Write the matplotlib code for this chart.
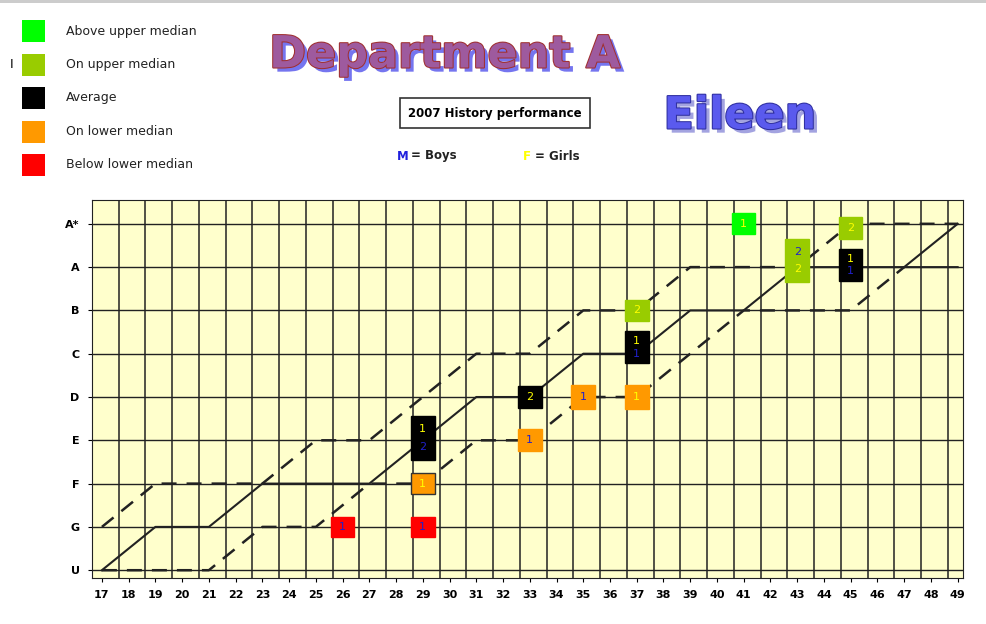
import matplotlib
matplotlib.use("Agg")
import matplotlib.pyplot as plt
import matplotlib.patheffects as pe
from matplotlib.patches import Rectangle

grades = ["U", "G", "F", "E", "D", "C", "B", "A", "A*"]
xticks = list(range(17, 50))

mid_x = [17, 19, 21, 23, 27, 31, 33, 35, 37, 39, 41, 43, 47, 49]
mid_y = [0, 1, 1, 2, 2, 4, 4, 5, 5, 6, 6, 7, 7, 7]
mid2_x = [47, 49]
mid2_y = [7, 8]
up_x = [17, 19, 23, 25, 27, 29, 31, 33, 35, 37, 39, 43, 45, 49]
up_y = [1, 2, 2, 3, 3, 4, 5, 5, 6, 6, 7, 7, 8, 8]
lo_x = [17, 21, 23, 25, 27, 29, 31, 33, 35, 37, 39, 41, 45, 47]
lo_y = [0, 0, 1, 1, 2, 2, 3, 3, 4, 4, 5, 6, 6, 7]

m_x = [26, 29, 29, 29, 33, 33, 35, 37, 37, 37, 41, 43, 45, 45]
m_y = [1, 1, 2, 3.05, 3, 4, 4, 4, 5.15, 6, 8, 7.15, 7.05, 7.9]
m_h = [0.45, 0.45, 0.48, 1.0, 0.5, 0.5, 0.55, 0.55, 0.75, 0.5, 0.48, 0.98, 0.72, 0.52]
m_col = ["#FF0000", "#FF0000", "#FF9900", "#000000", "#FF9900", "#000000", "#FF9900",
         "#FF9900", "#000000", "#99CC00", "#00FF00", "#99CC00", "#000000", "#99CC00"]
# (top label, top colour, bottom label, bottom colour)
m_top = ["", "", "1", "1", "", "2", "", "1", "1", "2", "1", "2", "1", "2"]
m_top_c = ["", "", "y", "y", "", "y", "", "y", "y", "y", "y", "b", "y", "y"]
m_bot = ["1", "1", "", "2", "1", "", "1", "", "1", "", "", "2", "1", ""]
m_bot_c = ["b", "b", "", "b", "b", "", "b", "", "b", "", "", "y", "b", ""]

leg_labels = ["Above upper median", "On upper median", "Average", "On lower median", "Below lower median"]
leg_colors = ["#00FF00", "#99CC00", "#000000", "#FF9900", "#FF0000"]

CMAP = {"y": "#FFFF00", "b": "#2020CC"}

fig = plt.figure(figsize=(9.87, 6.24), dpi=100)
fig.patch.set_facecolor("white")
W, H = 987, 624
ax = fig.add_axes([92 / W, 1 - 578 / H, (963 - 92) / W, (578 - 200) / H])
ax.set_facecolor("#FFFFCC")
ax.set_xlim(16.63, 49.2)
ax.set_ylim(-0.18, 8.55)
for xv in xticks:
    ax.axvline(xv - 0.37, color="#222222", lw=1.1, zorder=1)
for g in range(9):
    ax.axhline(g, color="#222222", lw=1.0, zorder=1)
ax.set_xticks(xticks)
ax.set_xticklabels([str(v) for v in xticks], fontsize=8, fontweight="bold")
ax.set_yticks(range(9))
ax.set_yticklabels(grades, fontsize=8, fontweight="bold")
ax.tick_params(length=3, pad=6)
for s in ax.spines.values():
    s.set_color("#222222")

ax.plot(mid_x, mid_y, color="#222222", lw=1.5, zorder=2)
ax.plot(mid2_x, mid2_y, color="#222222", lw=1.5, zorder=2)
ax.plot(up_x, up_y, color="#222222", lw=1.8, ls=(0, (6, 4)), zorder=2)
ax.plot(lo_x, lo_y, color="#222222", lw=1.8, ls=(0, (6, 4)), zorder=2)

for x, y, h, c, t, tc, b, bc in zip(m_x, m_y, m_h, m_col, m_top, m_top_c, m_bot, m_bot_c):
    w = 0.88
    ax.add_patch(Rectangle((x - w / 2, y - h / 2), w, h, facecolor=c,
                           edgecolor="#333333" if (c == "#FF9900" and x == 29) else c,
                           lw=1, zorder=3))
    if t and b:
        ax.text(x, y + h * 0.2, t, color=CMAP[tc], ha="center", va="center", fontsize=8, zorder=4)
        ax.text(x, y - h * 0.2, b, color=CMAP[bc], ha="center", va="center", fontsize=8, zorder=4)
    elif t:
        ax.text(x, y, t, color=CMAP[tc], ha="center", va="center", fontsize=8, zorder=4)
    elif b:
        ax.text(x, y, b, color=CMAP[bc], ha="center", va="center", fontsize=8, zorder=4)

for i, (lab, c) in enumerate(zip(leg_labels, leg_colors)):
    yc = 31 + i * 33.5
    fig.patches.append(Rectangle((22 / W, 1 - (yc + 11) / H), 23 / W, 22 / H,
                                 facecolor=c, transform=fig.transFigure, figure=fig))
    fig.text(66 / W, 1 - yc / H, lab, fontsize=9, va="center", color="#222222")
fig.text(10 / W, 1 - 64 / H, "I", fontsize=9, va="center")

fig.text(445 / W, 1 - 55 / H, "Department A", fontsize=32, fontweight="bold", ha="center",
         va="center", color="#9E5A9E",
         path_effects=[pe.withSimplePatchShadow(offset=(3, -3), shadow_rgbFace="#6666EE", alpha=0.9),
                       pe.Stroke(linewidth=1.5, foreground="#A03030"), pe.Normal()])
fig.text(740 / W, 1 - 116 / H, "Eileen", fontsize=32, fontweight="bold", ha="center",
         va="center", color="#5A5AEE",
         path_effects=[pe.withSimplePatchShadow(offset=(3, -3), shadow_rgbFace="#9999DD", alpha=0.9),
                       pe.Stroke(linewidth=1.5, foreground="#3030A0"), pe.Normal()])
fig.text(495 / W, 1 - 113 / H, "2007 History performance", fontsize=8.5, fontweight="bold",
         ha="center", va="center",
         bbox=dict(boxstyle="square,pad=0.7", fc="white", ec="#333333", lw=1.2))
fig.text(397 / W, 1 - 156 / H, "M", fontsize=8.5, fontweight="bold", color="#2020DD", va="center")
fig.text(411 / W, 1 - 156 / H, "= Boys", fontsize=8.5, fontweight="bold", color="#222222", va="center")
fig.text(523 / W, 1 - 156 / H, "F", fontsize=8.5, fontweight="bold", color="#FFFF00", va="center")
fig.text(535 / W, 1 - 156 / H, "= Girls", fontsize=8.5, fontweight="bold", color="#222222", va="center")

fig.patches.append(Rectangle((0, 1 - 3 / H), 1, 3 / H, facecolor="#CCCCCC",
                             transform=fig.transFigure, figure=fig))
fig.savefig("out.png", dpi=100)
